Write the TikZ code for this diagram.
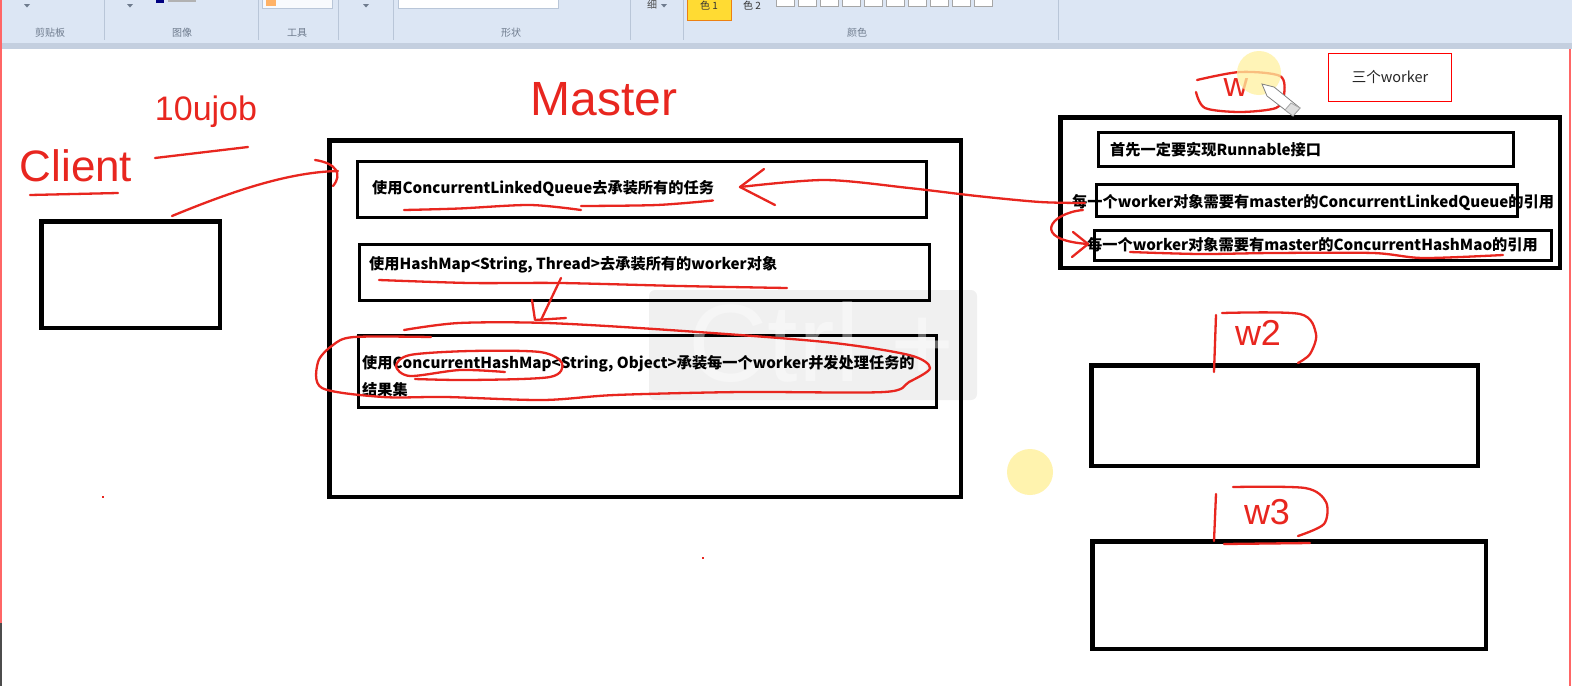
\documentclass[tikz,border=0pt]{standalone}
\usepackage{fontspec}
\setmainfont{Liberation Sans}
\newfontfamily\cjk{Noto Sans CJK SC}
\usetikzlibrary{positioning}

\definecolor{inkred}{HTML}{E8261F}
\definecolor{barblue}{HTML}{DCE6F4}
\definecolor{bandgray}{HTML}{C4CFDF}
\definecolor{sepline}{HTML}{B9C6D8}
\definecolor{labelgray}{HTML}{6E7B8D}
\definecolor{hilite}{HTML}{FFF1A0}

\begin{document}
\begin{tikzpicture}[x=1pt,y=-1pt,
  bigbox/.style={draw, line width=4.5pt, inner sep=0pt, anchor=north west},
  smallbox/.style={draw, line width=3pt, inner sep=0pt, anchor=north west},
  boxtext/.style={font=\cjk\bfseries\fontsize{15.2}{18}\selectfont, inner sep=0pt, anchor=west},
  barlabel/.style={font=\cjk\fontsize{10}{12}\selectfont, text=labelgray, inner sep=0pt},
  hand/.style={font=\fontsize{#1}{#1}\selectfont, text=inkred, inner sep=0pt},
  pen/.style={draw=inkred, line width=2.3pt, line cap=round, line join=round}]

  \useasboundingbox (0,0) rectangle (1572,686);
  \fill[white] (0,0) rectangle (1572,686);

  % ribbon of the paint program
  \fill[barblue] (0,0) rectangle (1572,43);
  \fill[bandgray] (0,43) rectangle (1572,49);
  \foreach \x in {104,258,338,393,630,683,1058}
    \draw[sepline] (\x,0) -- (\x,40);
  \node[barlabel] (lclip) at (50,33) {剪贴板};
  \node[barlabel] (limage) at (182,33) {图像};
  \node[barlabel] (ltools) at (297,33) {工具};
  \node[barlabel] (lshape) at (511,33) {形状};
  \node[barlabel] (lcolor) at (857,33) {颜色};
  \foreach \x in {27,130,366,664}
    \fill[labelgray] (\x-3,4) -- (\x+3,4) -- (\x,7.5) -- cycle;
  \fill[blue!50!black] (156,-3) rectangle (164,3);
  \fill[gray!60] (168,-3) rectangle (196,2);
  \draw[sepline, fill=white!80!barblue] (262,-3) rectangle (332,8);
  \fill[orange!60] (266,0) rectangle (276,6);
  \draw[sepline, fill=white] (398,-3) rectangle (558,8);
  \node[barlabel, text=black!70] (lthin) at (652,5) {细};
  \draw[orange!70!brown, fill=orange!35!yellow!80] (687,-3) rectangle (731,20);
  \node[barlabel, text=black!80] (lc1) at (709,6) {色 1};
  \node[barlabel, text=black!80] (lc2) at (752,6) {色 2};
  \foreach \i in {0,...,9}
    \draw[gray!70, fill=white] (776+22*\i,-6) rectangle (794+22*\i,6);

  % window edges
  \draw[red!60, line width=2pt] (1,0) -- (1,623);
  \draw[black!70, line width=2pt] (1,623) -- (1,686);
  \draw[red!60, line width=1.5pt] (1570,49) -- (1570,686);

  % client
  \node[bigbox, minimum width=178.5pt, minimum height=106.5pt] (client) at (39.25,219.25) {};
  \node[hand=44] (lblclient) at (76,166) {Client};
  \draw[pen] (30,195) -- (118,193);
  \node[hand=34] (lbljob) at (206,112) {10ujob};
  \draw[pen] (155,158) -- (248,147);

  % master
  \node[hand=48] (lblmaster) at (604,99) {Master};
  \node[bigbox, minimum width=631.5pt, minimum height=356.5pt] (master) at (327.25,138.25) {};
  \node[smallbox, minimum width=569pt, minimum height=56pt] (queue) at (355.5,159.5) {};
  \node[smallbox, minimum width=570pt, minimum height=56pt] (workers) at (357.5,242.5) {};
  \node[smallbox, minimum width=578pt, minimum height=72pt] (results) at (356.5,333.5) {};

  % Ctrl + Q overlay
  \fill[black, opacity=0.06, rounded corners=6pt] (649,290) rectangle (977,400);
  \begin{scope}
    \clip (649,290) rectangle (977,400);
    \node[font=\fontsize{110}{110}\selectfont, text=white, opacity=0.4, anchor=west] (ctrlq) at (685,352) {Ctrl + Q};
  \end{scope}

  \node[boxtext] (tqueue) at (372,189) {使用ConcurrentLinkedQueue去承装所有的任务};
  \node[boxtext] (tworkers) at (369,265) {使用HashMap<String, Thread>去承装所有的worker对象};
  \node[boxtext] (tresults) at (362,364) {使用ConcurrentHashMap<String, Object>承装每一个worker并发处理任务的};
  \node[boxtext] (tresults2) at (362,390) {结果集};

  % worker 1
  \node[bigbox, minimum width=499.5pt, minimum height=150.5pt] (worker) at (1058.25,115.25) {};
  \node[smallbox, minimum width=415pt, minimum height=34pt] (runnable) at (1096.5,130.5) {};
  \node[smallbox, minimum width=421pt, minimum height=32pt] (refqueue) at (1094.5,182.5) {};
  \node[smallbox, minimum width=457pt, minimum height=30pt] (refmap) at (1092.5,228.5) {};
  \node[boxtext] (trunnable) at (1110,150) {首先一定要实现Runnable接口};
  \node[boxtext] (trefqueue) at (1072,203) {每一个worker对象需要有master的ConcurrentLinkedQueue的引用};
  \node[boxtext] (trefmap) at (1087,245) {每一个worker对象需要有master的ConcurrentHashMao的引用};
  \node[draw=red, line width=1pt, minimum width=123pt, minimum height=48pt, inner sep=0pt,
    font=\cjk\fontsize{14.5}{17}\selectfont, text=black!85] (three) at (1390,77) {三个worker};

  % worker 2 and 3
  \node[bigbox, minimum width=386.5pt, minimum height=100.5pt] (wtwo) at (1089.25,363.25) {};
  \node[bigbox, minimum width=393.5pt, minimum height=107.5pt] (wthree) at (1090.25,539.25) {};

  % red marks
  \coordinate (c1) at (172,216);
  \coordinate (c2) at (338,171);
  \draw[pen] (c1) .. controls (235,190) and (290,172) .. (c2);
  \draw[pen] (315,160) .. controls (336,163) and (343,174) .. (333,186);

  \draw[pen] plot[smooth] coordinates {(404,210) (459,208.5) (530,205) (581,210)};
  \draw[pen] plot[smooth] coordinates {(581,206) (657,205) (713,200.5)};

  \coordinate (q1) at (1085,203);
  \coordinate (q2) at (740,187);
  \draw[pen] plot[smooth] coordinates {(q2) (825,180) (909,188) (977,196) (1040,202) (q1)};
  \draw[pen] (764,169) -- (q2) -- (775,205);

  \coordinate (m1) at (1083,210);
  \coordinate (m2) at (1088,244);
  \draw[pen] (m1) .. controls (1050,213) and (1030,240) .. (m2);
  \draw[pen] (1073,232) -- (m2) -- (1072,257);
  \draw[pen] plot[smooth] coordinates {(1130,252) (1200,254) (1273,253) (1373,253) (1423,258) (1503,255)};

  \draw[pen] plot[smooth] coordinates {(379,280) (470,283) (560,283) (680,286) (787,288)};
  \draw[pen] (561,278) -- (541,320);
  \draw[pen] (532,300) -- (535,320) -- (566,318);

  \draw[pen] plot[smooth] coordinates {(404,330) (459,323) (547,323) (669,330) (825,342) (909,355)
    (930,368) (909,382) (884,392) (741,392) (615,395) (543,400) (446,397) (383,397) (322,388)
    (318,362) (333,345) (354,337) (431,337)};
  \draw[pen] plot[smooth] coordinates {(505,372) (460,370) (410,376) (396,366) (410,355) (470,351)
    (540,352) (562,363) (550,377) (470,380) (415,379)};

  \fill[inkred] (102,496) rectangle (104,498);
  \fill[inkred] (702,557) rectangle (704,559);

  % worker labels
  \node[hand=34] (lblw) at (1236,88) {w};
  \draw[pen] plot[smooth] coordinates {(1197,80) (1240,72) (1280,76) (1284,95) (1276,108)
    (1240,112) (1205,108) (1196,92)};
  \node[hand=36] (lblw2) at (1258,333) {w2};
  \draw[pen] (1216,315) -- (1214,372);
  \draw[pen] plot[smooth] coordinates {(1222,313) (1300,314) (1316,334) (1310,354) (1298,363)};
  \node[hand=36] (lblw3) at (1267,512) {w3};
  \draw[pen] (1216,494) -- (1214,541);
  \draw[pen] plot[smooth] coordinates {(1233,487) (1305,488) (1326,502) (1324,524) (1298,536)};
  \draw[pen] (1224,544) -- (1310,543);

  % pointer highlights
  \fill[hilite, opacity=0.75] (1259,73) circle (22);
  \fill[hilite, opacity=0.85] (1030,472) circle (23);
  \draw[gray, fill=white, line width=0.8pt] (1262,84) -- (1274,87) -- (1300,108) -- (1293,116)
    -- (1267,96) -- cycle;
  \draw[gray!70, fill=gray!25, line width=0.8pt] (1291,103) -- (1300,108) -- (1293,116) -- (1285,110) -- cycle;
\end{tikzpicture}
\end{document}
